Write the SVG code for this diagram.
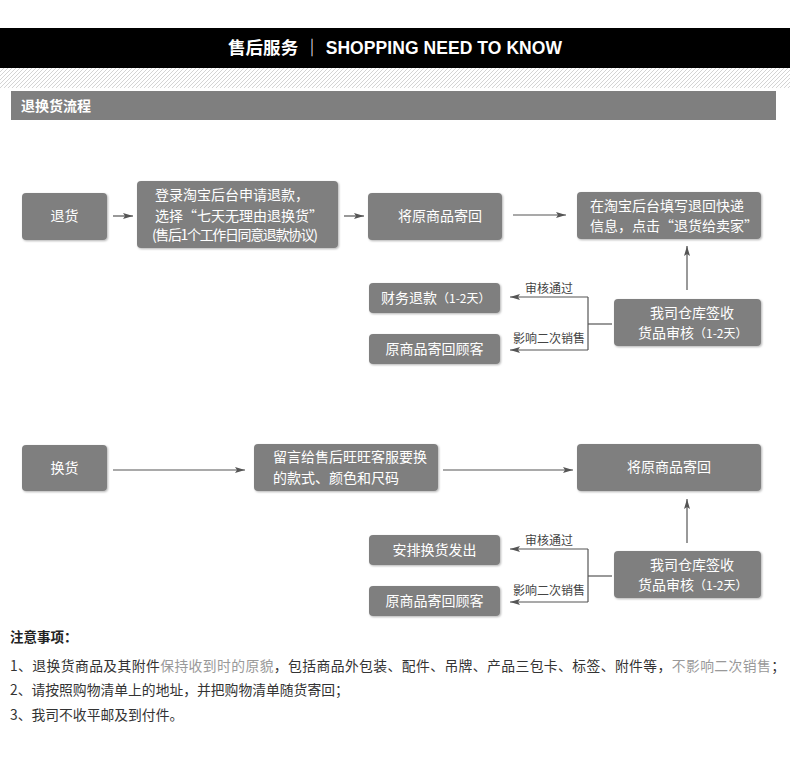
<svg xmlns="http://www.w3.org/2000/svg" width="790" height="774" viewBox="0 0 790 774">
<defs>
<pattern id="hatch" width="4" height="4" patternUnits="userSpaceOnUse">
<rect width="4" height="4" fill="#fff"/>
<path d="M-1,1 L1,-1 M0,4 L4,0 M3,5 L5,3" stroke="#d4d4d4" stroke-width="1"/>
</pattern>
<filter id="sh" x="-10%" y="-10%" width="120%" height="130%">
<feDropShadow dx="1" dy="1" stdDeviation="1" flood-color="#000" flood-opacity="0.3"/>
</filter>
<marker id="ah" viewBox="0 0 10 6" refX="10" refY="3" markerWidth="10" markerHeight="6" markerUnits="userSpaceOnUse" orient="auto">
<path d="M0,0 L10,3 L0,6 L2,3 Z" fill="#555"/>
</marker>
<style>
.box{fill:#7f7f7f;filter:url(#sh)}
.bt{fill:#fff;font-family:"Noto Sans CJK SC","Liberation Sans",sans-serif;font-size:14px}
.sm{font-size:12px}
.ln{stroke:#555;stroke-width:1.2;fill:none}
.lbl{fill:#444;font-family:"Noto Sans CJK SC","Liberation Sans",sans-serif;font-size:12px}
.note{fill:#333;font-family:"Noto Sans CJK SC","Liberation Sans",sans-serif;font-size:13.8px}
.gr{fill:#999}
</style>
</defs>
<rect width="790" height="774" fill="#fff"/>
<rect x="0" y="28" width="790" height="40" fill="#000"/>
<rect x="0" y="68" width="790" height="20" fill="url(#hatch)"/>
<text x="395" y="54" text-anchor="middle" fill="#fff" font-family="'Liberation Sans','Noto Sans CJK SC',sans-serif" font-size="17.5" font-weight="bold" textLength="334" lengthAdjust="spacing">售后服务 ｜ SHOPPING NEED TO KNOW</text>
<rect x="11" y="91" width="765" height="29" fill="#7f7f7f"/>
<text x="21" y="111" fill="#fff" font-family="'Noto Sans CJK SC',sans-serif" font-size="14" font-weight="bold">退换货流程</text>

<g id="connectors">
<line class="ln" x1="113" y1="216" x2="133" y2="216" marker-end="url(#ah)"/>
<line class="ln" x1="344" y1="216" x2="364" y2="216" marker-end="url(#ah)"/>
<line class="ln" x1="513" y1="215" x2="566" y2="215" marker-end="url(#ah)"/>
<line class="ln" x1="687" y1="290" x2="687" y2="246" marker-end="url(#ah)"/>
<polyline class="ln" points="612,324 588,324"/>
<polyline class="ln" points="588,297 588,350"/>
<line class="ln" x1="588" y1="297" x2="510" y2="297" marker-end="url(#ah)"/>
<line class="ln" x1="588" y1="350" x2="510" y2="350" marker-end="url(#ah)"/>
<text class="lbl" x="525" y="293">审核通过</text>
<text class="lbl" x="513" y="343">影响二次销售</text>

<line class="ln" x1="113" y1="470" x2="245" y2="470" marker-end="url(#ah)"/>
<line class="ln" x1="443" y1="470" x2="573" y2="470" marker-end="url(#ah)"/>
<line class="ln" x1="687" y1="543" x2="687" y2="499" marker-end="url(#ah)"/>
<polyline class="ln" points="612,576 588,576"/>
<polyline class="ln" points="588,549 588,602"/>
<line class="ln" x1="588" y1="549" x2="510" y2="549" marker-end="url(#ah)"/>
<line class="ln" x1="588" y1="602" x2="510" y2="602" marker-end="url(#ah)"/>
<text class="lbl" x="525" y="545">审核通过</text>
<text class="lbl" x="513" y="595">影响二次销售</text>
</g>

<g id="n-tuihuo"><rect class="box" x="22" y="193" width="85" height="47" rx="4"/><text class="bt" x="64.5" y="221" text-anchor="middle">退货</text></g>
<g id="n-denglu"><rect class="box" x="137" y="181" width="201" height="67" rx="4"/>
<text class="bt" x="155" y="200">登录淘宝后台申请退款，</text>
<text class="bt" x="155" y="221">选择“七天无理由退换货”</text>
<text class="bt" x="152" y="240" font-size="13" textLength="166" lengthAdjust="spacing">(售后1个工作日同意退款协议)</text></g>
<g id="n-jiyuan1"><rect class="box" x="368" y="193" width="134" height="47" rx="4"/><text class="bt" x="440" y="221" text-anchor="middle">将原商品寄回</text></g>
<g id="n-tianxie"><rect class="box" x="577" y="192" width="184" height="47" rx="4"/>
<text class="bt" x="590" y="211">在淘宝后台填写退回快递</text>
<text class="bt" x="590" y="231">信息，点击“退货给卖家”</text></g>
<g id="n-qianshou1"><rect class="box" x="614" y="299" width="147" height="47" rx="4"/>
<text class="bt" x="692" y="318" text-anchor="middle">我司仓库签收</text>
<text class="bt" x="638" y="338">货品审核<tspan class="sm">（1-2天）</tspan></text></g>
<g id="n-caiwu"><rect class="box" x="369" y="283" width="131" height="30" rx="4"/><text class="bt" x="381" y="303">财务退款<tspan class="sm">（1-2天）</tspan></text></g>
<g id="n-guke1"><rect class="box" x="369" y="334" width="131" height="30" rx="4"/><text class="bt" x="434.5" y="354" text-anchor="middle">原商品寄回顾客</text></g>

<g id="n-huanhuo"><rect class="box" x="22" y="445" width="85" height="46" rx="4"/><text class="bt" x="64.5" y="473" text-anchor="middle">换货</text></g>
<g id="n-liuyan"><rect class="box" x="254" y="444" width="184" height="47" rx="4"/>
<text class="bt" x="273" y="462">留言给售后旺旺客服要换</text>
<text class="bt" x="273" y="483">的款式、颜色和尺码</text></g>
<g id="n-jiyuan2"><rect class="box" x="577" y="444" width="184" height="47" rx="4"/><text class="bt" x="669" y="472" text-anchor="middle">将原商品寄回</text></g>
<g id="n-qianshou2"><rect class="box" x="614" y="551" width="147" height="47" rx="4"/>
<text class="bt" x="692" y="570" text-anchor="middle">我司仓库签收</text>
<text class="bt" x="638" y="590">货品审核<tspan class="sm">（1-2天）</tspan></text></g>
<g id="n-anpai"><rect class="box" x="369" y="535" width="131" height="30" rx="4"/><text class="bt" x="434.5" y="555" text-anchor="middle">安排换货发出</text></g>
<g id="n-guke2"><rect class="box" x="369" y="586" width="131" height="30" rx="4"/><text class="bt" x="434.5" y="606" text-anchor="middle">原商品寄回顾客</text></g>

<text x="10" y="642" fill="#222" font-family="'Noto Sans CJK SC',sans-serif" font-size="13.5" font-weight="bold">注意事项：</text>
<text class="note" x="10" y="671" textLength="775" lengthAdjust="spacing">1、退换货商品及其附件<tspan class="gr">保持收到时的原貌</tspan>，包括商品外包装、配件、吊牌、产品三包卡、标签、附件等，<tspan class="gr">不影响二次销售</tspan>；</text>
<text class="note" x="10" y="695">2、请按照购物清单上的地址，并把购物清单随货寄回；</text>
<text class="note" x="10" y="720">3、我司不收平邮及到付件。</text>
</svg>
